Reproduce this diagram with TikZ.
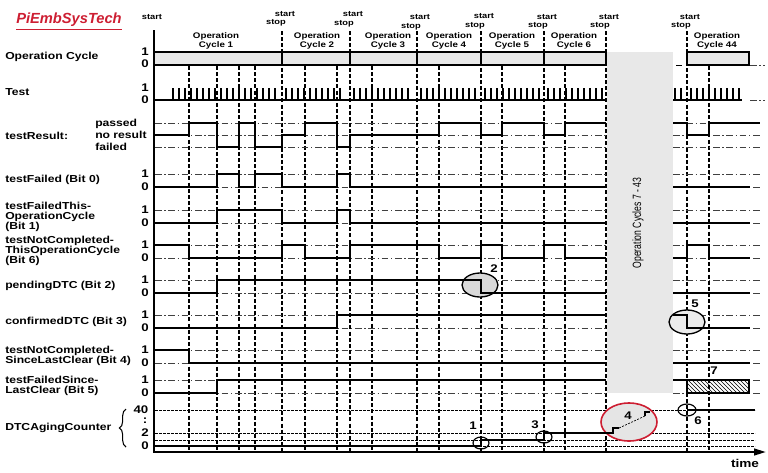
\documentclass[tikz,border=0pt]{standalone}
\usepackage{fontspec}
\setmainfont{Liberation Sans}[FakeStretch=1.2]
\newfontfamily\narrowfont{Liberation Sans}[FakeStretch=0.72]
\newfontfamily\logofont{Liberation Sans}
\usetikzlibrary{patterns,decorations.pathreplacing,arrows.meta,calc}
\definecolor{logored}{RGB}{205,30,50}
\definecolor{bandgray}{RGB}{232,232,232}
\begin{document}
\begin{tikzpicture}[x=0.75pt,y=-0.75pt,
 sig/.style={line width=1pt,line join=miter},
 refl/.style={line width=0.45pt,black!75,dash pattern=on 5pt off 2pt on 1pt off 2pt},
 vgrid/.style={line width=0.9pt,dash pattern=on 3pt off 1.6pt},
 cgrid/.style={line width=0.5pt,dash pattern=on 2pt off 1pt},
 lbl/.style={font=\bfseries\fontsize{7.6}{7.5}\selectfont,anchor=west,inner sep=0pt,align=left},
 lvl/.style={font=\bfseries\fontsize{8.3}{9}\selectfont,inner sep=0pt},
 sslbl/.style={font=\bfseries\fontsize{5.8}{7}\selectfont,inner sep=0pt},
 cyc/.style={font=\bfseries\fontsize{6.1}{6.2}\selectfont,inner sep=0pt,align=center},
 num/.style={font=\bfseries\fontsize{8.3}{9}\selectfont,inner sep=0pt},
 bar/.style={line width=1.7pt},
 mark5/.style={line width=1.1pt}
]
\useasboundingbox (0,0) rectangle (768,472);

% gray band for cycles 7-43
\fill[bandgray] (607,52) rectangle (673,393);
\node[font=\narrowfont\fontsize{9}{10}\selectfont,rotate=90,inner sep=0pt] (band) at (638,223) {Operation Cycles 7 - 43};

% vertical grid lines
\foreach \x in {282,350,417,481,544,606,687} {\draw[vgrid] (\x,31)--(\x,451);}
\foreach \x in {189,217,239,255,305,337,372,439,502,565,709} {\draw[vgrid] (\x,66)--(\x,451);}

% reference levels
\foreach \y in {123,135,147,174,187,210,223,245,258,280,293,315,328,350,363,380,393} {
  \draw[refl] (155,\y)--(606,\y);
  \draw[refl] (673,\y)--(762,\y);
}
\foreach \y in {410,433,440,446} {\draw[cgrid] (155,\y)--(755,\y);}

% operation cycle row
\draw[line width=1.3pt,fill=bandgray] (154,52) rectangle (606,65);
\foreach \x in {282,350,417,481,544} {\draw[line width=1.3pt] (\x,52)--(\x,65);}
\draw[line width=1.3pt,fill=bandgray] (687,52) rectangle (749,65);
\draw[line width=0.6pt] (676,65)--(682,65);
\draw[refl] (750,65)--(765,65);

% test row
\draw[sig] (154,100)--(606,100);
\draw[sig] (673,100)--(742,100);
\draw[refl] (750,100)--(765,100);
\foreach \a/\b in {173/277,286/345,354/412,421/476,485/539,548/603,675/683,691/740} {
  \pgfmathtruncatemacro\c{\a+6}
  \foreach \x in {\a,\c,...,\b} {\draw[bar] (\x,88)--(\x,100.5);}
}

% markers (fills first)
\draw[line width=1pt,fill=black!15] (480,285) ellipse (18 and 12);
\draw[line width=1pt,fill=black!8] (687,322) ellipse (18 and 12);
\draw[line width=1.2pt,draw=logored,fill=black!10] (629,422) ellipse (28 and 19);

% testResult
\draw[sig] (154,135)--(189,135)--(189,123)--(217,123)--(217,147)--(239,147)--(239,123)--(255,123)--(255,147)--(282,147)--(282,135)--(305,135)--(305,123)--(337,123)--(337,147)--(350,147)--(350,135)--(439,135)--(439,123)--(481,123)--(481,135)--(502,135)--(502,123)--(544,123)--(544,135)--(565,135)--(565,123)--(606,123);
\draw[sig] (673,123)--(687,123)--(687,135)--(709,135)--(709,123)--(760,123);

% Bit 0
\draw[sig] (154,187)--(217,187)--(217,174)--(239,174)--(239,187)--(255,187)--(255,174)--(282,174)--(282,187)--(337,187)--(337,174)--(350,174)--(350,187)--(606,187);
\draw[sig] (673,187)--(750,187);
% Bit 1
\draw[sig] (154,223)--(217,223)--(217,210)--(282,210)--(282,223)--(337,223)--(337,210)--(350,210)--(350,223)--(606,223);
\draw[sig] (673,223)--(750,223);
% Bit 6
\draw[sig] (154,245)--(189,245)--(189,258)--(282,258)--(282,245)--(305,245)--(305,258)--(350,258)--(350,245)--(439,245)--(439,258)--(481,258)--(481,245)--(502,245)--(502,258)--(544,258)--(544,245)--(565,245)--(565,258)--(606,258);
\draw[sig] (673,258)--(687,258)--(687,245)--(709,245)--(709,258)--(750,258);
% Bit 2
\draw[sig] (154,293)--(217,293)--(217,280)--(481,280)--(481,293)--(606,293);
\draw[sig] (673,293)--(750,293);
% Bit 3
\draw[sig] (154,328)--(337,328)--(337,315)--(606,315);
\draw[sig] (673,315)--(687,315)--(687,328)--(750,328);
% Bit 4
\draw[sig] (154,350)--(189,350)--(189,363)--(606,363);
\draw[sig] (673,363)--(750,363);
% Bit 5
\draw[sig] (154,393)--(217,393)--(217,380)--(606,380);
\draw[sig] (673,380)--(687,380);
\draw[line width=1pt,pattern=north west lines] (687,380) rectangle (749,393);

% aging counter
\draw[sig] (154,446)--(481,446)--(481,440)--(544,440)--(544,433)--(613,433)--(613,428)--(619,428);
\draw[line width=0.5pt,dash pattern=on 1.5pt off 1pt] (619,428)--(645,416);
\draw[sig] (645,416)--(645,412)--(650,412);
\draw[sig] (687,410)--(755,410);

% small markers
\draw[line width=0.9pt] (481,443) ellipse (8 and 6);
\draw[line width=0.9pt] (544,437) ellipse (8 and 6);
\draw[line width=0.9pt] (687,410) ellipse (9 and 6);

% marker numbers
\node[num] (m1) at (473,426) {1};
\node[num] (m2) at (494,269) {2};
\node[num] (m3) at (535,425) {3};
\node[num] (m4) at (628,416) {4};
\node[num] (m5) at (695,304) {5};
\node[num] (m6) at (698,421) {6};
\node[num] (m7) at (714,371) {7};

% axes
\draw[line width=1.6pt] (154,30)--(154,453);
\draw[line width=1.6pt,-{Triangle[length=9pt,width=5pt]}] (153,452)--(766,452);
\node[font=\bfseries\fontsize{8.5}{9}\selectfont,inner sep=0pt] (time) at (745,463) {time};

% start/stop labels
\node[sslbl] (st0) at (152,17) {start};
\foreach \x/\ys/\yp in {282/14/23,350/14/24,417/17/27,481/16/26,544/17/26,606/17/26,687/17/26} {
  \node[sslbl] (st\x) at (\x+3,\ys) {start};
  \node[sslbl] (sp\x) at (\x-6,\yp) {stop};
}

% operation cycle labels
\foreach \x/\n in {216/1,317/2,388/3,449/4,512/5,574/6,717/44} {
  \node[cyc] (oc\n) at (\x,41) {Operation\\Cycle \n};
}

% logo
\node[font=\logofont\bfseries\itshape\fontsize{11}{12}\selectfont,text=logored,inner sep=0pt,anchor=west] (logo) at (16,20) {PiEmbSysTech};
\draw[logored,line width=0.8pt] ($(logo.south west)+(0,2)$)--($(logo.south east)+(0,2)$);

% row labels
\node[lbl] (r1) at (5,57) {Operation Cycle};
\node[lbl] (r2) at (5,92) {Test};
\node[lbl] (r3) at (5,136) {testResult:};
\node[lbl] (r3a) at (95,124) {passed};
\node[lbl] (r3b) at (95,135) {no result};
\node[lbl] (r3c) at (95,147) {failed};
\node[lbl] (r4) at (5,180) {testFailed (Bit 0)};
\node[lbl] (r5) at (5,217) {testFailedThis-\\OperationCycle\\(Bit 1)};
\node[lbl] (r6) at (5,251) {testNotCompleted-\\ThisOperationCycle\\(Bit 6)};
\node[lbl] (r7) at (5,286) {pendingDTC (Bit 2)};
\node[lbl] (r8) at (5,322) {confirmedDTC (Bit 3)};
\node[lbl] (r9) at (5,356) {testNotCompleted-\\SinceLastClear (Bit 4)};
\node[lbl] (r10) at (5,386) {testFailedSince-\\LastClear (Bit 5)};
\node[lbl] (r11) at (5,428) {DTCAgingCounter};
\draw[line width=0.8pt,decorate,decoration={brace,amplitude=5pt}] (126,447)--(126,409);

% level digits
\foreach \y/\d in {52/1,64/0,88/1,100/0,174/1,187/0,210/1,223/0,245/1,258/0,280/1,293/0,315/1,328/0,350/1,363/0,380/1,393/0} {
  \node[lvl] at (145,\y) {\d};
}
\node[lvl] (c40) at (141,410) {40};
\node[lvl] (ccol) at (145,421) {:};
\node[lvl] (c2) at (145,433) {2};
\node[lvl] (c0) at (145,446) {0};
\end{tikzpicture}
\end{document}
